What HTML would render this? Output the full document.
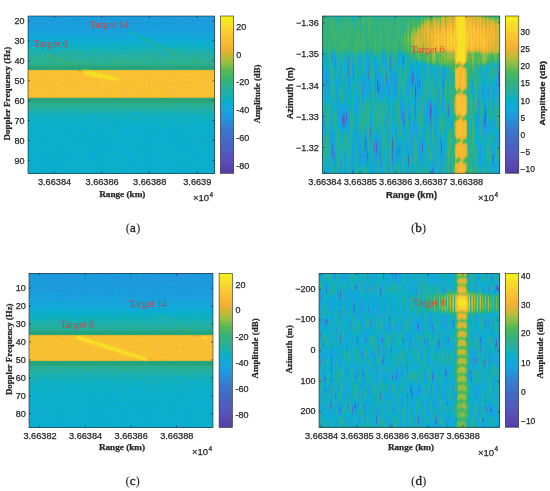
<!DOCTYPE html>
<html><head><meta charset="utf-8"><title>Figure</title>
<style>html,body{margin:0;padding:0;background:#fff;}body{width:550px;height:491px;overflow:hidden;position:relative;}svg{position:absolute;left:0;top:0;display:block;}</style>
</head><body>
<svg width="550" height="491" viewBox="0 0 550 491">
<defs><filter id="bl1" x="-50%" y="-50%" width="200%" height="200%" color-interpolation-filters="sRGB"><feGaussianBlur stdDeviation="0.80 0.80"/></filter>
<filter id="bl2" x="-50%" y="-50%" width="200%" height="200%" color-interpolation-filters="sRGB"><feGaussianBlur stdDeviation="1.50 1.50"/></filter>
<filter id="bl3" x="-50%" y="-50%" width="200%" height="200%" color-interpolation-filters="sRGB"><feGaussianBlur stdDeviation="3.00 3.00"/></filter>
<filter id="blv" x="-50%" y="-50%" width="200%" height="200%" color-interpolation-filters="sRGB"><feGaussianBlur stdDeviation="0.50 2.50"/></filter>
<filter id="bly" x="-50%" y="-50%" width="200%" height="200%" color-interpolation-filters="sRGB"><feGaussianBlur stdDeviation="0.01 0.90"/></filter>
<linearGradient id="ga" x1="0" y1="0" x2="0" y2="1"><stop offset="0.0000" stop-color="rgb(95,255,0)"/><stop offset="0.0572" stop-color="rgb(96,255,0)"/><stop offset="0.1081" stop-color="rgb(101,255,0)"/><stop offset="0.1526" stop-color="rgb(109,255,0)"/><stop offset="0.1907" stop-color="rgb(119,255,0)"/><stop offset="0.2289" stop-color="rgb(129,255,0)"/><stop offset="0.2670" stop-color="rgb(136,255,0)"/><stop offset="0.2988" stop-color="rgb(140,255,0)"/><stop offset="0.3242" stop-color="rgb(144,255,0)"/><stop offset="0.3408" stop-color="rgb(146,255,0)"/><stop offset="0.3446" stop-color="rgb(218,255,0)"/><stop offset="0.5175" stop-color="rgb(218,255,0)"/><stop offset="0.5213" stop-color="rgb(147,255,0)"/><stop offset="0.5467" stop-color="rgb(144,255,0)"/><stop offset="0.5722" stop-color="rgb(138,255,0)"/><stop offset="0.5976" stop-color="rgb(131,255,0)"/><stop offset="0.6230" stop-color="rgb(123,255,0)"/><stop offset="0.6612" stop-color="rgb(119,255,0)"/><stop offset="0.7247" stop-color="rgb(115,255,0)"/><stop offset="0.9981" stop-color="rgb(115,255,0)"/></linearGradient>
<filter id="fa" filterUnits="userSpaceOnUse" x="28.00" y="16.00" width="186.30" height="157.30" color-interpolation-filters="sRGB"><feTurbulence type="fractalNoise" baseFrequency="0.9 0.6" numOctaves="1" seed="3" result="n0"/><feColorMatrix in="n0" type="matrix" values="1 0 0 0 0 1 0 0 0 0 1 0 0 0 0 0 0 0 0 1" result="n1"/><feColorMatrix in="SourceGraphic" type="matrix" values="0 1 0 0 0 0 1 0 0 0 0 1 0 0 0 0 0 0 0 1" result="A"/><feColorMatrix in="SourceGraphic" type="matrix" values="1 0 0 0 0 1 0 0 0 0 1 0 0 0 0 0 0 0 0 1" result="V"/><feComposite in="A" in2="n1" operator="arithmetic" k1="0.1500" k2="0" k3="0" k4="0" result="P"/><feComposite in="P" in2="A" operator="arithmetic" k1="0" k2="1" k3="-0.0750" k4="0.5" result="Q"/><feComposite in="V" in2="Q" operator="arithmetic" k1="0" k2="1" k3="1" k4="-0.5" result="S"/><feComponentTransfer in="S"><feFuncR type="table" tableValues="0.3333 0.3373 0.3412 0.3451 0.3490 0.3490 0.3412 0.3294 0.3216 0.3098 0.2980 0.2902 0.2784 0.2667 0.2549 0.2431 0.2353 0.2235 0.2118 0.2000 0.1765 0.1529 0.1294 0.1137 0.1020 0.0941 0.0824 0.0588 0.0314 0.0392 0.0588 0.0824 0.1255 0.1451 0.1569 0.1765 0.1922 0.2118 0.2275 0.2667 0.3059 0.3412 0.4118 0.4902 0.5686 0.6431 0.7098 0.7725 0.8314 0.8902 0.9490 0.9647 0.9686 0.9725 0.9765 0.9804 0.9804 0.9765 0.9725 0.9686 0.9647 0.9608 0.9608 0.9608"/><feFuncG type="table" tableValues="0.2353 0.2510 0.2627 0.2784 0.2941 0.3059 0.3216 0.3373 0.3490 0.3647 0.3765 0.3882 0.4000 0.4118 0.4235 0.4392 0.4549 0.4706 0.4863 0.5059 0.5294 0.5569 0.5804 0.6039 0.6235 0.6392 0.6588 0.6706 0.6824 0.6863 0.6902 0.6902 0.6863 0.6863 0.6902 0.6941 0.6980 0.7020 0.7059 0.7137 0.7176 0.7255 0.7294 0.7373 0.7412 0.7412 0.7333 0.7255 0.7137 0.7020 0.6941 0.7059 0.7216 0.7412 0.7569 0.7765 0.7961 0.8196 0.8392 0.8627 0.8863 0.9098 0.9294 0.9412"/><feFuncB type="table" tableValues="0.6471 0.6627 0.6745 0.6902 0.7059 0.7176 0.7255 0.7373 0.7451 0.7529 0.7569 0.7647 0.7686 0.7725 0.7765 0.7843 0.7922 0.8000 0.8078 0.8157 0.8314 0.8471 0.8627 0.8706 0.8667 0.8667 0.8588 0.8392 0.8196 0.7882 0.7490 0.7098 0.6706 0.6314 0.5882 0.5490 0.5098 0.4706 0.4314 0.3961 0.3647 0.3294 0.3098 0.2902 0.2745 0.2549 0.2275 0.2118 0.2078 0.2039 0.1961 0.1961 0.1961 0.1961 0.1961 0.1961 0.1882 0.1765 0.1647 0.1490 0.1373 0.1255 0.1098 0.0980"/><feFuncA type="linear" slope="0" intercept="1"/></feComponentTransfer></filter>
<linearGradient id="ca" x1="0" y1="0" x2="0" y2="1"><stop offset="0.0000" stop-color="#f5f019"/><stop offset="0.0156" stop-color="#f5ed1c"/><stop offset="0.0312" stop-color="#f5e820"/><stop offset="0.0469" stop-color="#f6e223"/><stop offset="0.0625" stop-color="#f7dd26"/><stop offset="0.0781" stop-color="#f8d729"/><stop offset="0.0938" stop-color="#f9d12d"/><stop offset="0.1094" stop-color="#f9cc30"/><stop offset="0.1250" stop-color="#fac632"/><stop offset="0.1406" stop-color="#f9c232"/><stop offset="0.1562" stop-color="#f8bd32"/><stop offset="0.1719" stop-color="#f7b932"/><stop offset="0.1875" stop-color="#f6b432"/><stop offset="0.2031" stop-color="#f5b032"/><stop offset="0.2188" stop-color="#e6b333"/><stop offset="0.2344" stop-color="#d7b535"/><stop offset="0.2500" stop-color="#c8b836"/><stop offset="0.2656" stop-color="#b9bb39"/><stop offset="0.2812" stop-color="#a9bc3f"/><stop offset="0.2969" stop-color="#97be45"/><stop offset="0.3125" stop-color="#83bc49"/><stop offset="0.3281" stop-color="#70bb4d"/><stop offset="0.3438" stop-color="#5cb952"/><stop offset="0.3594" stop-color="#51b85a"/><stop offset="0.3750" stop-color="#48b662"/><stop offset="0.3906" stop-color="#3eb56b"/><stop offset="0.4062" stop-color="#37b374"/><stop offset="0.4219" stop-color="#33b27e"/><stop offset="0.4375" stop-color="#2fb187"/><stop offset="0.4531" stop-color="#2ab091"/><stop offset="0.4688" stop-color="#27b09b"/><stop offset="0.4844" stop-color="#24afa6"/><stop offset="0.5000" stop-color="#1bb0b0"/><stop offset="0.5156" stop-color="#12b0ba"/><stop offset="0.5312" stop-color="#0dafc3"/><stop offset="0.5469" stop-color="#07afcd"/><stop offset="0.5625" stop-color="#0bacd3"/><stop offset="0.5781" stop-color="#11a9d8"/><stop offset="0.5938" stop-color="#17a6dc"/><stop offset="0.6094" stop-color="#19a1dd"/><stop offset="0.6250" stop-color="#1b9ddd"/><stop offset="0.6406" stop-color="#1e98de"/><stop offset="0.6562" stop-color="#2392db"/><stop offset="0.6719" stop-color="#298cd7"/><stop offset="0.6875" stop-color="#2f85d3"/><stop offset="0.7031" stop-color="#357fd0"/><stop offset="0.7188" stop-color="#377bce"/><stop offset="0.7344" stop-color="#3a77cc"/><stop offset="0.7500" stop-color="#3c73ca"/><stop offset="0.7656" stop-color="#3f6fc7"/><stop offset="0.7812" stop-color="#426bc6"/><stop offset="0.7969" stop-color="#4568c5"/><stop offset="0.8125" stop-color="#4765c3"/><stop offset="0.8281" stop-color="#4a62c2"/><stop offset="0.8438" stop-color="#4d5fc1"/><stop offset="0.8594" stop-color="#505cc0"/><stop offset="0.8750" stop-color="#5259be"/><stop offset="0.8906" stop-color="#5555bb"/><stop offset="0.9062" stop-color="#5752b9"/><stop offset="0.9219" stop-color="#594eb7"/><stop offset="0.9375" stop-color="#594ab3"/><stop offset="0.9531" stop-color="#5847b0"/><stop offset="0.9688" stop-color="#5743ac"/><stop offset="0.9844" stop-color="#5640a9"/><stop offset="1.0000" stop-color="#553ca5"/></linearGradient>
<linearGradient id="gb" x1="0" y1="0" x2="0" y2="1"><stop offset="0.0000" stop-color="rgb(124,76,0)"/><stop offset="0.0095" stop-color="rgb(138,76,0)"/><stop offset="0.0254" stop-color="rgb(149,76,0)"/><stop offset="0.0509" stop-color="rgb(151,76,0)"/><stop offset="0.1972" stop-color="rgb(151,76,0)"/><stop offset="0.2195" stop-color="rgb(143,102,0)"/><stop offset="0.2385" stop-color="rgb(126,153,0)"/><stop offset="0.2576" stop-color="rgb(110,230,0)"/><stop offset="0.2926" stop-color="rgb(107,255,0)"/><stop offset="1.0000" stop-color="rgb(107,255,0)"/></linearGradient>
<filter id="fb" filterUnits="userSpaceOnUse" x="322.60" y="16.00" width="177.20" height="157.20" color-interpolation-filters="sRGB"><feTurbulence type="fractalNoise" baseFrequency="0.4 0.03" numOctaves="2" seed="7" result="n0"/><feColorMatrix in="n0" type="matrix" values="1 0 0 0 0 1 0 0 0 0 1 0 0 0 0 0 0 0 0 1" result="n1"/><feComponentTransfer in="n1" result="n2"><feFuncR type="table" tableValues="0.1943 0.1962 0.1981 0.2000 0.2019 0.2038 0.2057 0.2076 0.2095 0.2114 0.2133 0.2152 0.2302 0.2594 0.2887 0.3179 0.3472 0.3813 0.4154 0.4495 0.4591 0.4625 0.4659 0.4693 0.4727 0.4761 0.4795 0.4829 0.4864 0.4925 0.5096 0.5266 0.5437 0.5607 0.5732 0.5838 0.5945 0.6052 0.6158 0.6209 0.6221 0.6234 0.6247 0.6260 0.6273 0.6285 0.6298 0.6311 0.6324 0.6336 0.6349 0.6362 0.6375 0.6388 0.6400 0.6413 0.6426 0.6439 0.6452 0.6464 0.6477 0.6490 0.6503 0.6516 0.6528"/><feFuncG type="table" tableValues="0.1943 0.1962 0.1981 0.2000 0.2019 0.2038 0.2057 0.2076 0.2095 0.2114 0.2133 0.2152 0.2302 0.2594 0.2887 0.3179 0.3472 0.3813 0.4154 0.4495 0.4591 0.4625 0.4659 0.4693 0.4727 0.4761 0.4795 0.4829 0.4864 0.4925 0.5096 0.5266 0.5437 0.5607 0.5732 0.5838 0.5945 0.6052 0.6158 0.6209 0.6221 0.6234 0.6247 0.6260 0.6273 0.6285 0.6298 0.6311 0.6324 0.6336 0.6349 0.6362 0.6375 0.6388 0.6400 0.6413 0.6426 0.6439 0.6452 0.6464 0.6477 0.6490 0.6503 0.6516 0.6528"/><feFuncB type="table" tableValues="0.1943 0.1962 0.1981 0.2000 0.2019 0.2038 0.2057 0.2076 0.2095 0.2114 0.2133 0.2152 0.2302 0.2594 0.2887 0.3179 0.3472 0.3813 0.4154 0.4495 0.4591 0.4625 0.4659 0.4693 0.4727 0.4761 0.4795 0.4829 0.4864 0.4925 0.5096 0.5266 0.5437 0.5607 0.5732 0.5838 0.5945 0.6052 0.6158 0.6209 0.6221 0.6234 0.6247 0.6260 0.6273 0.6285 0.6298 0.6311 0.6324 0.6336 0.6349 0.6362 0.6375 0.6388 0.6400 0.6413 0.6426 0.6439 0.6452 0.6464 0.6477 0.6490 0.6503 0.6516 0.6528"/></feComponentTransfer><feGaussianBlur in="n2" stdDeviation="0.30" result="n3"/><feColorMatrix in="SourceGraphic" type="matrix" values="0 1 0 0 0 0 1 0 0 0 0 1 0 0 0 0 0 0 0 1" result="A"/><feColorMatrix in="SourceGraphic" type="matrix" values="1 0 0 0 0 1 0 0 0 0 1 0 0 0 0 0 0 0 0 1" result="V"/><feComposite in="A" in2="n3" operator="arithmetic" k1="1.0000" k2="0" k3="0" k4="0" result="P"/><feComposite in="P" in2="A" operator="arithmetic" k1="0" k2="1" k3="-0.5000" k4="0.5" result="Q"/><feComposite in="V" in2="Q" operator="arithmetic" k1="0" k2="1" k3="1" k4="-0.5" result="S"/><feComponentTransfer in="S"><feFuncR type="table" tableValues="0.3333 0.3373 0.3412 0.3451 0.3490 0.3490 0.3412 0.3294 0.3216 0.3098 0.2980 0.2902 0.2784 0.2667 0.2549 0.2431 0.2353 0.2235 0.2118 0.2000 0.1765 0.1529 0.1294 0.1137 0.1020 0.0941 0.0824 0.0588 0.0314 0.0392 0.0588 0.0824 0.1255 0.1451 0.1569 0.1765 0.1922 0.2118 0.2275 0.2667 0.3059 0.3412 0.4118 0.4902 0.5686 0.6431 0.7098 0.7725 0.8314 0.8902 0.9490 0.9647 0.9686 0.9725 0.9765 0.9804 0.9804 0.9765 0.9725 0.9686 0.9647 0.9608 0.9608 0.9608"/><feFuncG type="table" tableValues="0.2353 0.2510 0.2627 0.2784 0.2941 0.3059 0.3216 0.3373 0.3490 0.3647 0.3765 0.3882 0.4000 0.4118 0.4235 0.4392 0.4549 0.4706 0.4863 0.5059 0.5294 0.5569 0.5804 0.6039 0.6235 0.6392 0.6588 0.6706 0.6824 0.6863 0.6902 0.6902 0.6863 0.6863 0.6902 0.6941 0.6980 0.7020 0.7059 0.7137 0.7176 0.7255 0.7294 0.7373 0.7412 0.7412 0.7333 0.7255 0.7137 0.7020 0.6941 0.7059 0.7216 0.7412 0.7569 0.7765 0.7961 0.8196 0.8392 0.8627 0.8863 0.9098 0.9294 0.9412"/><feFuncB type="table" tableValues="0.6471 0.6627 0.6745 0.6902 0.7059 0.7176 0.7255 0.7373 0.7451 0.7529 0.7569 0.7647 0.7686 0.7725 0.7765 0.7843 0.7922 0.8000 0.8078 0.8157 0.8314 0.8471 0.8627 0.8706 0.8667 0.8667 0.8588 0.8392 0.8196 0.7882 0.7490 0.7098 0.6706 0.6314 0.5882 0.5490 0.5098 0.4706 0.4314 0.3961 0.3647 0.3294 0.3098 0.2902 0.2745 0.2549 0.2275 0.2118 0.2078 0.2039 0.1961 0.1961 0.1961 0.1961 0.1961 0.1961 0.1882 0.1765 0.1647 0.1490 0.1373 0.1255 0.1098 0.0980"/><feFuncA type="linear" slope="0" intercept="1"/></feComponentTransfer></filter>
<pattern id="stb" patternUnits="userSpaceOnUse" x="0" y="0" width="3.3" height="10"><rect x="0" y="0" width="1.5" height="10" fill="rgb(238,238,238)"/></pattern>
<linearGradient id="mbv" x1="0" y1="0" x2="0" y2="1"><stop offset="0" stop-color="#fff" stop-opacity="0"/><stop offset="0.1" stop-color="#fff" stop-opacity="1"/><stop offset="0.8" stop-color="#fff" stop-opacity="1"/><stop offset="1" stop-color="#fff" stop-opacity="0"/></linearGradient>
<mask id="mb1" maskUnits="userSpaceOnUse" x="322" y="16" width="178" height="42"><rect x="322" y="16" width="178" height="42" fill="url(#mbv)"/></mask>
<radialGradient id="glr" gradientUnits="userSpaceOnUse" cx="462" cy="39" r="64" gradientTransform="translate(462 39) scale(1 0.5) translate(-462 -39)"><stop offset="0" stop-color="rgb(235,76,0)" stop-opacity="1"/><stop offset="0.35" stop-color="rgb(218,76,0)" stop-opacity="1"/><stop offset="0.7" stop-color="rgb(202,76,0)" stop-opacity="0.85"/><stop offset="1" stop-color="rgb(168,76,0)" stop-opacity="0"/></radialGradient>
<linearGradient id="cb" x1="0" y1="0" x2="0" y2="1"><stop offset="0.0000" stop-color="#f5f019"/><stop offset="0.0156" stop-color="#f5ed1c"/><stop offset="0.0312" stop-color="#f5e820"/><stop offset="0.0469" stop-color="#f6e223"/><stop offset="0.0625" stop-color="#f7dd26"/><stop offset="0.0781" stop-color="#f8d729"/><stop offset="0.0938" stop-color="#f9d12d"/><stop offset="0.1094" stop-color="#f9cc30"/><stop offset="0.1250" stop-color="#fac632"/><stop offset="0.1406" stop-color="#f9c232"/><stop offset="0.1562" stop-color="#f8bd32"/><stop offset="0.1719" stop-color="#f7b932"/><stop offset="0.1875" stop-color="#f6b432"/><stop offset="0.2031" stop-color="#f5b032"/><stop offset="0.2188" stop-color="#e6b333"/><stop offset="0.2344" stop-color="#d7b535"/><stop offset="0.2500" stop-color="#c8b836"/><stop offset="0.2656" stop-color="#b9bb39"/><stop offset="0.2812" stop-color="#a9bc3f"/><stop offset="0.2969" stop-color="#97be45"/><stop offset="0.3125" stop-color="#83bc49"/><stop offset="0.3281" stop-color="#70bb4d"/><stop offset="0.3438" stop-color="#5cb952"/><stop offset="0.3594" stop-color="#51b85a"/><stop offset="0.3750" stop-color="#48b662"/><stop offset="0.3906" stop-color="#3eb56b"/><stop offset="0.4062" stop-color="#37b374"/><stop offset="0.4219" stop-color="#33b27e"/><stop offset="0.4375" stop-color="#2fb187"/><stop offset="0.4531" stop-color="#2ab091"/><stop offset="0.4688" stop-color="#27b09b"/><stop offset="0.4844" stop-color="#24afa6"/><stop offset="0.5000" stop-color="#1bb0b0"/><stop offset="0.5156" stop-color="#12b0ba"/><stop offset="0.5312" stop-color="#0dafc3"/><stop offset="0.5469" stop-color="#07afcd"/><stop offset="0.5625" stop-color="#0bacd3"/><stop offset="0.5781" stop-color="#11a9d8"/><stop offset="0.5938" stop-color="#17a6dc"/><stop offset="0.6094" stop-color="#19a1dd"/><stop offset="0.6250" stop-color="#1b9ddd"/><stop offset="0.6406" stop-color="#1e98de"/><stop offset="0.6562" stop-color="#2392db"/><stop offset="0.6719" stop-color="#298cd7"/><stop offset="0.6875" stop-color="#2f85d3"/><stop offset="0.7031" stop-color="#357fd0"/><stop offset="0.7188" stop-color="#377bce"/><stop offset="0.7344" stop-color="#3a77cc"/><stop offset="0.7500" stop-color="#3c73ca"/><stop offset="0.7656" stop-color="#3f6fc7"/><stop offset="0.7812" stop-color="#426bc6"/><stop offset="0.7969" stop-color="#4568c5"/><stop offset="0.8125" stop-color="#4765c3"/><stop offset="0.8281" stop-color="#4a62c2"/><stop offset="0.8438" stop-color="#4d5fc1"/><stop offset="0.8594" stop-color="#505cc0"/><stop offset="0.8750" stop-color="#5259be"/><stop offset="0.8906" stop-color="#5555bb"/><stop offset="0.9062" stop-color="#5752b9"/><stop offset="0.9219" stop-color="#594eb7"/><stop offset="0.9375" stop-color="#594ab3"/><stop offset="0.9531" stop-color="#5847b0"/><stop offset="0.9688" stop-color="#5743ac"/><stop offset="0.9844" stop-color="#5640a9"/><stop offset="1.0000" stop-color="#553ca5"/></linearGradient>
<linearGradient id="gc" x1="0" y1="0" x2="0" y2="1"><stop offset="0.0000" stop-color="rgb(93,255,0)"/><stop offset="0.1084" stop-color="rgb(95,255,0)"/><stop offset="0.1733" stop-color="rgb(100,255,0)"/><stop offset="0.2252" stop-color="rgb(108,255,0)"/><stop offset="0.2706" stop-color="rgb(118,255,0)"/><stop offset="0.3095" stop-color="rgb(126,255,0)"/><stop offset="0.3420" stop-color="rgb(133,255,0)"/><stop offset="0.3744" stop-color="rgb(139,255,0)"/><stop offset="0.3991" stop-color="rgb(145,255,0)"/><stop offset="0.4030" stop-color="rgb(217,255,0)"/><stop offset="0.5665" stop-color="rgb(217,255,0)"/><stop offset="0.5704" stop-color="rgb(146,255,0)"/><stop offset="0.6016" stop-color="rgb(141,255,0)"/><stop offset="0.6340" stop-color="rgb(134,255,0)"/><stop offset="0.6729" stop-color="rgb(125,255,0)"/><stop offset="0.7249" stop-color="rgb(119,255,0)"/><stop offset="0.8222" stop-color="rgb(115,255,0)"/><stop offset="0.9955" stop-color="rgb(114,255,0)"/></linearGradient>
<filter id="fc" filterUnits="userSpaceOnUse" x="29.00" y="273.30" width="184.00" height="154.10" color-interpolation-filters="sRGB"><feTurbulence type="fractalNoise" baseFrequency="0.9 0.6" numOctaves="1" seed="5" result="n0"/><feColorMatrix in="n0" type="matrix" values="1 0 0 0 0 1 0 0 0 0 1 0 0 0 0 0 0 0 0 1" result="n1"/><feColorMatrix in="SourceGraphic" type="matrix" values="0 1 0 0 0 0 1 0 0 0 0 1 0 0 0 0 0 0 0 1" result="A"/><feColorMatrix in="SourceGraphic" type="matrix" values="1 0 0 0 0 1 0 0 0 0 1 0 0 0 0 0 0 0 0 1" result="V"/><feComposite in="A" in2="n1" operator="arithmetic" k1="0.1500" k2="0" k3="0" k4="0" result="P"/><feComposite in="P" in2="A" operator="arithmetic" k1="0" k2="1" k3="-0.0750" k4="0.5" result="Q"/><feComposite in="V" in2="Q" operator="arithmetic" k1="0" k2="1" k3="1" k4="-0.5" result="S"/><feComponentTransfer in="S"><feFuncR type="table" tableValues="0.3333 0.3373 0.3412 0.3451 0.3490 0.3490 0.3412 0.3294 0.3216 0.3098 0.2980 0.2902 0.2784 0.2667 0.2549 0.2431 0.2353 0.2235 0.2118 0.2000 0.1765 0.1529 0.1294 0.1137 0.1020 0.0941 0.0824 0.0588 0.0314 0.0392 0.0588 0.0824 0.1255 0.1451 0.1569 0.1765 0.1922 0.2118 0.2275 0.2667 0.3059 0.3412 0.4118 0.4902 0.5686 0.6431 0.7098 0.7725 0.8314 0.8902 0.9490 0.9647 0.9686 0.9725 0.9765 0.9804 0.9804 0.9765 0.9725 0.9686 0.9647 0.9608 0.9608 0.9608"/><feFuncG type="table" tableValues="0.2353 0.2510 0.2627 0.2784 0.2941 0.3059 0.3216 0.3373 0.3490 0.3647 0.3765 0.3882 0.4000 0.4118 0.4235 0.4392 0.4549 0.4706 0.4863 0.5059 0.5294 0.5569 0.5804 0.6039 0.6235 0.6392 0.6588 0.6706 0.6824 0.6863 0.6902 0.6902 0.6863 0.6863 0.6902 0.6941 0.6980 0.7020 0.7059 0.7137 0.7176 0.7255 0.7294 0.7373 0.7412 0.7412 0.7333 0.7255 0.7137 0.7020 0.6941 0.7059 0.7216 0.7412 0.7569 0.7765 0.7961 0.8196 0.8392 0.8627 0.8863 0.9098 0.9294 0.9412"/><feFuncB type="table" tableValues="0.6471 0.6627 0.6745 0.6902 0.7059 0.7176 0.7255 0.7373 0.7451 0.7529 0.7569 0.7647 0.7686 0.7725 0.7765 0.7843 0.7922 0.8000 0.8078 0.8157 0.8314 0.8471 0.8627 0.8706 0.8667 0.8667 0.8588 0.8392 0.8196 0.7882 0.7490 0.7098 0.6706 0.6314 0.5882 0.5490 0.5098 0.4706 0.4314 0.3961 0.3647 0.3294 0.3098 0.2902 0.2745 0.2549 0.2275 0.2118 0.2078 0.2039 0.1961 0.1961 0.1961 0.1961 0.1961 0.1961 0.1882 0.1765 0.1647 0.1490 0.1373 0.1255 0.1098 0.0980"/><feFuncA type="linear" slope="0" intercept="1"/></feComponentTransfer></filter>
<linearGradient id="cc" x1="0" y1="0" x2="0" y2="1"><stop offset="0.0000" stop-color="#f5f019"/><stop offset="0.0156" stop-color="#f5ed1c"/><stop offset="0.0312" stop-color="#f5e820"/><stop offset="0.0469" stop-color="#f6e223"/><stop offset="0.0625" stop-color="#f7dd26"/><stop offset="0.0781" stop-color="#f8d729"/><stop offset="0.0938" stop-color="#f9d12d"/><stop offset="0.1094" stop-color="#f9cc30"/><stop offset="0.1250" stop-color="#fac632"/><stop offset="0.1406" stop-color="#f9c232"/><stop offset="0.1562" stop-color="#f8bd32"/><stop offset="0.1719" stop-color="#f7b932"/><stop offset="0.1875" stop-color="#f6b432"/><stop offset="0.2031" stop-color="#f5b032"/><stop offset="0.2188" stop-color="#e6b333"/><stop offset="0.2344" stop-color="#d7b535"/><stop offset="0.2500" stop-color="#c8b836"/><stop offset="0.2656" stop-color="#b9bb39"/><stop offset="0.2812" stop-color="#a9bc3f"/><stop offset="0.2969" stop-color="#97be45"/><stop offset="0.3125" stop-color="#83bc49"/><stop offset="0.3281" stop-color="#70bb4d"/><stop offset="0.3438" stop-color="#5cb952"/><stop offset="0.3594" stop-color="#51b85a"/><stop offset="0.3750" stop-color="#48b662"/><stop offset="0.3906" stop-color="#3eb56b"/><stop offset="0.4062" stop-color="#37b374"/><stop offset="0.4219" stop-color="#33b27e"/><stop offset="0.4375" stop-color="#2fb187"/><stop offset="0.4531" stop-color="#2ab091"/><stop offset="0.4688" stop-color="#27b09b"/><stop offset="0.4844" stop-color="#24afa6"/><stop offset="0.5000" stop-color="#1bb0b0"/><stop offset="0.5156" stop-color="#12b0ba"/><stop offset="0.5312" stop-color="#0dafc3"/><stop offset="0.5469" stop-color="#07afcd"/><stop offset="0.5625" stop-color="#0bacd3"/><stop offset="0.5781" stop-color="#11a9d8"/><stop offset="0.5938" stop-color="#17a6dc"/><stop offset="0.6094" stop-color="#19a1dd"/><stop offset="0.6250" stop-color="#1b9ddd"/><stop offset="0.6406" stop-color="#1e98de"/><stop offset="0.6562" stop-color="#2392db"/><stop offset="0.6719" stop-color="#298cd7"/><stop offset="0.6875" stop-color="#2f85d3"/><stop offset="0.7031" stop-color="#357fd0"/><stop offset="0.7188" stop-color="#377bce"/><stop offset="0.7344" stop-color="#3a77cc"/><stop offset="0.7500" stop-color="#3c73ca"/><stop offset="0.7656" stop-color="#3f6fc7"/><stop offset="0.7812" stop-color="#426bc6"/><stop offset="0.7969" stop-color="#4568c5"/><stop offset="0.8125" stop-color="#4765c3"/><stop offset="0.8281" stop-color="#4a62c2"/><stop offset="0.8438" stop-color="#4d5fc1"/><stop offset="0.8594" stop-color="#505cc0"/><stop offset="0.8750" stop-color="#5259be"/><stop offset="0.8906" stop-color="#5555bb"/><stop offset="0.9062" stop-color="#5752b9"/><stop offset="0.9219" stop-color="#594eb7"/><stop offset="0.9375" stop-color="#594ab3"/><stop offset="0.9531" stop-color="#5847b0"/><stop offset="0.9688" stop-color="#5743ac"/><stop offset="0.9844" stop-color="#5640a9"/><stop offset="1.0000" stop-color="#553ca5"/></linearGradient>
<linearGradient id="gd" x1="0" y1="0" x2="0" y2="1"><stop offset="0.0000" stop-color="rgb(108,255,0)"/><stop offset="0.9968" stop-color="rgb(108,255,0)"/></linearGradient>
<filter id="fd" filterUnits="userSpaceOnUse" x="319.00" y="273.30" width="180.60" height="153.90" color-interpolation-filters="sRGB"><feTurbulence type="fractalNoise" baseFrequency="0.45 0.06" numOctaves="2" seed="11" result="n0"/><feColorMatrix in="n0" type="matrix" values="1 0 0 0 0 1 0 0 0 0 1 0 0 0 0 0 0 0 0 1" result="n1"/><feComponentTransfer in="n1" result="n2"><feFuncR type="table" tableValues="0.2543 0.2559 0.2575 0.2592 0.2608 0.2625 0.2641 0.2657 0.2674 0.2690 0.2707 0.2723 0.2853 0.3106 0.3359 0.3613 0.3866 0.4132 0.4397 0.4663 0.4732 0.4752 0.4772 0.4791 0.4811 0.4831 0.4850 0.4870 0.4890 0.4931 0.5057 0.5184 0.5311 0.5437 0.5526 0.5600 0.5673 0.5747 0.5821 0.5857 0.5868 0.5879 0.5891 0.5902 0.5913 0.5924 0.5935 0.5946 0.5957 0.5968 0.5979 0.5990 0.6001 0.6012 0.6023 0.6035 0.6046 0.6057 0.6068 0.6079 0.6090 0.6101 0.6112 0.6123 0.6134"/><feFuncG type="table" tableValues="0.2543 0.2559 0.2575 0.2592 0.2608 0.2625 0.2641 0.2657 0.2674 0.2690 0.2707 0.2723 0.2853 0.3106 0.3359 0.3613 0.3866 0.4132 0.4397 0.4663 0.4732 0.4752 0.4772 0.4791 0.4811 0.4831 0.4850 0.4870 0.4890 0.4931 0.5057 0.5184 0.5311 0.5437 0.5526 0.5600 0.5673 0.5747 0.5821 0.5857 0.5868 0.5879 0.5891 0.5902 0.5913 0.5924 0.5935 0.5946 0.5957 0.5968 0.5979 0.5990 0.6001 0.6012 0.6023 0.6035 0.6046 0.6057 0.6068 0.6079 0.6090 0.6101 0.6112 0.6123 0.6134"/><feFuncB type="table" tableValues="0.2543 0.2559 0.2575 0.2592 0.2608 0.2625 0.2641 0.2657 0.2674 0.2690 0.2707 0.2723 0.2853 0.3106 0.3359 0.3613 0.3866 0.4132 0.4397 0.4663 0.4732 0.4752 0.4772 0.4791 0.4811 0.4831 0.4850 0.4870 0.4890 0.4931 0.5057 0.5184 0.5311 0.5437 0.5526 0.5600 0.5673 0.5747 0.5821 0.5857 0.5868 0.5879 0.5891 0.5902 0.5913 0.5924 0.5935 0.5946 0.5957 0.5968 0.5979 0.5990 0.6001 0.6012 0.6023 0.6035 0.6046 0.6057 0.6068 0.6079 0.6090 0.6101 0.6112 0.6123 0.6134"/></feComponentTransfer><feGaussianBlur in="n2" stdDeviation="0.30" result="n3"/><feColorMatrix in="SourceGraphic" type="matrix" values="0 1 0 0 0 0 1 0 0 0 0 1 0 0 0 0 0 0 0 1" result="A"/><feColorMatrix in="SourceGraphic" type="matrix" values="1 0 0 0 0 1 0 0 0 0 1 0 0 0 0 0 0 0 0 1" result="V"/><feComposite in="A" in2="n3" operator="arithmetic" k1="1.0000" k2="0" k3="0" k4="0" result="P"/><feComposite in="P" in2="A" operator="arithmetic" k1="0" k2="1" k3="-0.5000" k4="0.5" result="Q"/><feComposite in="V" in2="Q" operator="arithmetic" k1="0" k2="1" k3="1" k4="-0.5" result="S"/><feComponentTransfer in="S"><feFuncR type="table" tableValues="0.3333 0.3373 0.3412 0.3451 0.3490 0.3490 0.3412 0.3294 0.3216 0.3098 0.2980 0.2902 0.2784 0.2667 0.2549 0.2431 0.2353 0.2235 0.2118 0.2000 0.1765 0.1529 0.1294 0.1137 0.1020 0.0941 0.0824 0.0588 0.0314 0.0392 0.0588 0.0824 0.1255 0.1451 0.1569 0.1765 0.1922 0.2118 0.2275 0.2667 0.3059 0.3412 0.4118 0.4902 0.5686 0.6431 0.7098 0.7725 0.8314 0.8902 0.9490 0.9647 0.9686 0.9725 0.9765 0.9804 0.9804 0.9765 0.9725 0.9686 0.9647 0.9608 0.9608 0.9608"/><feFuncG type="table" tableValues="0.2353 0.2510 0.2627 0.2784 0.2941 0.3059 0.3216 0.3373 0.3490 0.3647 0.3765 0.3882 0.4000 0.4118 0.4235 0.4392 0.4549 0.4706 0.4863 0.5059 0.5294 0.5569 0.5804 0.6039 0.6235 0.6392 0.6588 0.6706 0.6824 0.6863 0.6902 0.6902 0.6863 0.6863 0.6902 0.6941 0.6980 0.7020 0.7059 0.7137 0.7176 0.7255 0.7294 0.7373 0.7412 0.7412 0.7333 0.7255 0.7137 0.7020 0.6941 0.7059 0.7216 0.7412 0.7569 0.7765 0.7961 0.8196 0.8392 0.8627 0.8863 0.9098 0.9294 0.9412"/><feFuncB type="table" tableValues="0.6471 0.6627 0.6745 0.6902 0.7059 0.7176 0.7255 0.7373 0.7451 0.7529 0.7569 0.7647 0.7686 0.7725 0.7765 0.7843 0.7922 0.8000 0.8078 0.8157 0.8314 0.8471 0.8627 0.8706 0.8667 0.8667 0.8588 0.8392 0.8196 0.7882 0.7490 0.7098 0.6706 0.6314 0.5882 0.5490 0.5098 0.4706 0.4314 0.3961 0.3647 0.3294 0.3098 0.2902 0.2745 0.2549 0.2275 0.2118 0.2078 0.2039 0.1961 0.1961 0.1961 0.1961 0.1961 0.1961 0.1882 0.1765 0.1647 0.1490 0.1373 0.1255 0.1098 0.0980"/><feFuncA type="linear" slope="0" intercept="1"/></feComponentTransfer></filter>
<linearGradient id="gdh" gradientUnits="userSpaceOnUse" x1="319" y1="0" x2="499.3" y2="0"><stop offset="0.0000" stop-color="rgb(108,64,0)" stop-opacity="0.00"/><stop offset="0.2274" stop-color="rgb(115,64,0)" stop-opacity="0.50"/><stop offset="0.3938" stop-color="rgb(125,64,0)" stop-opacity="0.90"/><stop offset="0.5047" stop-color="rgb(137,64,0)" stop-opacity="1.00"/><stop offset="0.5879" stop-color="rgb(149,64,0)" stop-opacity="1.00"/><stop offset="0.6711" stop-color="rgb(168,64,0)" stop-opacity="1.00"/><stop offset="0.7266" stop-color="rgb(185,64,0)" stop-opacity="1.00"/><stop offset="0.7876" stop-color="rgb(200,64,0)" stop-opacity="1.00"/><stop offset="0.8486" stop-color="rgb(188,64,0)" stop-opacity="1.00"/><stop offset="0.9207" stop-color="rgb(175,64,0)" stop-opacity="1.00"/><stop offset="1.0000" stop-color="rgb(166,64,0)" stop-opacity="1.00"/></linearGradient>
<linearGradient id="gdv" x1="0" y1="0" x2="0" y2="1"><stop offset="0" stop-color="#fff" stop-opacity="0"/><stop offset="0.2" stop-color="#fff" stop-opacity="1"/><stop offset="0.8" stop-color="#fff" stop-opacity="1"/><stop offset="1" stop-color="#fff" stop-opacity="0"/></linearGradient>
<mask id="md1" maskUnits="userSpaceOnUse" x="319" y="292" width="181" height="22"><rect x="319" y="292" width="181" height="22" fill="url(#gdv)"/></mask>
<radialGradient id="gdr" gradientUnits="userSpaceOnUse" cx="462" cy="303" r="38" gradientTransform="translate(462 303) scale(1 0.36) translate(-462 -303)"><stop offset="0" stop-color="rgb(219,51,0)" stop-opacity="1"/><stop offset="0.6" stop-color="rgb(200,51,0)" stop-opacity="0.7"/><stop offset="1" stop-color="rgb(173,51,0)" stop-opacity="0"/></radialGradient>
<pattern id="std" patternUnits="userSpaceOnUse" x="0.3" y="0" width="2.7" height="10"><rect x="0" y="0" width="1.25" height="10" fill="rgb(170,170,170)"/></pattern>
<linearGradient id="gdm" gradientUnits="userSpaceOnUse" x1="319" y1="0" x2="499.3" y2="0"><stop offset="0" stop-color="#fff" stop-opacity="0.25"/><stop offset="0.5" stop-color="#fff" stop-opacity="0.7"/><stop offset="0.7" stop-color="#fff" stop-opacity="1"/></linearGradient>
<mask id="md2" maskUnits="userSpaceOnUse" x="319" y="289" width="181" height="28"><rect x="319" y="289" width="181" height="28" fill="url(#gdm)"/></mask>
<linearGradient id="gcol" gradientUnits="userSpaceOnUse" x1="0" y1="270" x2="0" y2="430"><stop offset="0.0000" stop-color="rgb(190,38,0)"/><stop offset="0.0375" stop-color="rgb(195,38,0)"/><stop offset="0.1125" stop-color="rgb(202,38,0)"/><stop offset="0.1500" stop-color="rgb(221,38,0)"/><stop offset="0.2062" stop-color="rgb(248,38,0)"/><stop offset="0.2625" stop-color="rgb(221,38,0)"/><stop offset="0.3000" stop-color="rgb(202,38,0)"/><stop offset="0.3750" stop-color="rgb(195,38,0)"/><stop offset="0.6875" stop-color="rgb(183,38,0)"/><stop offset="1.0000" stop-color="rgb(168,38,0)"/></linearGradient>
<linearGradient id="cd" x1="0" y1="0" x2="0" y2="1"><stop offset="0.0000" stop-color="#f5f019"/><stop offset="0.0156" stop-color="#f5ed1c"/><stop offset="0.0312" stop-color="#f5e820"/><stop offset="0.0469" stop-color="#f6e223"/><stop offset="0.0625" stop-color="#f7dd26"/><stop offset="0.0781" stop-color="#f8d729"/><stop offset="0.0938" stop-color="#f9d12d"/><stop offset="0.1094" stop-color="#f9cc30"/><stop offset="0.1250" stop-color="#fac632"/><stop offset="0.1406" stop-color="#f9c232"/><stop offset="0.1562" stop-color="#f8bd32"/><stop offset="0.1719" stop-color="#f7b932"/><stop offset="0.1875" stop-color="#f6b432"/><stop offset="0.2031" stop-color="#f5b032"/><stop offset="0.2188" stop-color="#e6b333"/><stop offset="0.2344" stop-color="#d7b535"/><stop offset="0.2500" stop-color="#c8b836"/><stop offset="0.2656" stop-color="#b9bb39"/><stop offset="0.2812" stop-color="#a9bc3f"/><stop offset="0.2969" stop-color="#97be45"/><stop offset="0.3125" stop-color="#83bc49"/><stop offset="0.3281" stop-color="#70bb4d"/><stop offset="0.3438" stop-color="#5cb952"/><stop offset="0.3594" stop-color="#51b85a"/><stop offset="0.3750" stop-color="#48b662"/><stop offset="0.3906" stop-color="#3eb56b"/><stop offset="0.4062" stop-color="#37b374"/><stop offset="0.4219" stop-color="#33b27e"/><stop offset="0.4375" stop-color="#2fb187"/><stop offset="0.4531" stop-color="#2ab091"/><stop offset="0.4688" stop-color="#27b09b"/><stop offset="0.4844" stop-color="#24afa6"/><stop offset="0.5000" stop-color="#1bb0b0"/><stop offset="0.5156" stop-color="#12b0ba"/><stop offset="0.5312" stop-color="#0dafc3"/><stop offset="0.5469" stop-color="#07afcd"/><stop offset="0.5625" stop-color="#0bacd3"/><stop offset="0.5781" stop-color="#11a9d8"/><stop offset="0.5938" stop-color="#17a6dc"/><stop offset="0.6094" stop-color="#19a1dd"/><stop offset="0.6250" stop-color="#1b9ddd"/><stop offset="0.6406" stop-color="#1e98de"/><stop offset="0.6562" stop-color="#2392db"/><stop offset="0.6719" stop-color="#298cd7"/><stop offset="0.6875" stop-color="#2f85d3"/><stop offset="0.7031" stop-color="#357fd0"/><stop offset="0.7188" stop-color="#377bce"/><stop offset="0.7344" stop-color="#3a77cc"/><stop offset="0.7500" stop-color="#3c73ca"/><stop offset="0.7656" stop-color="#3f6fc7"/><stop offset="0.7812" stop-color="#426bc6"/><stop offset="0.7969" stop-color="#4568c5"/><stop offset="0.8125" stop-color="#4765c3"/><stop offset="0.8281" stop-color="#4a62c2"/><stop offset="0.8438" stop-color="#4d5fc1"/><stop offset="0.8594" stop-color="#505cc0"/><stop offset="0.8750" stop-color="#5259be"/><stop offset="0.8906" stop-color="#5555bb"/><stop offset="0.9062" stop-color="#5752b9"/><stop offset="0.9219" stop-color="#594eb7"/><stop offset="0.9375" stop-color="#594ab3"/><stop offset="0.9531" stop-color="#5847b0"/><stop offset="0.9688" stop-color="#5743ac"/><stop offset="0.9844" stop-color="#5640a9"/><stop offset="1.0000" stop-color="#553ca5"/></linearGradient></defs>
<g filter="url(#fa)">
<rect x="28.00" y="16.00" width="186.30" height="157.30" fill="url(#ga)"/>
<path d="M46.5 54.8 L82 69.6" stroke="rgb(131,255,0)" stroke-width="3.2" fill="none" filter="url(#bl1)"/>
<path d="M46.5 54.8 L82 69.6" stroke="rgb(170,255,0)" stroke-width="1.6" fill="none" filter="url(#bl1)"/>
<path d="M82 69.8 L96 72.8 L108 76.2 L122.5 81 L108 79.4 L96 77.6 L83 74.5 Z" fill="rgb(236,255,0)" filter="url(#bl1)"/>
<path d="M86 71.5 L118 79.5" stroke="rgb(247,255,0)" stroke-width="2" fill="none" filter="url(#bl1)"/>
<path d="M129 32 L181 56.5" stroke="rgb(145,255,0)" stroke-width="1.7" fill="none" filter="url(#bl1)"/>
</g>
<g filter="url(#bly)" opacity="0.3"><rect x="28.3" y="65.5" width="185.8" height="4" fill="#0c7f60"/><rect x="28.3" y="98" width="185.8" height="4.5" fill="#0c7f60"/></g>
<text x="33.80" y="47.40" font-size="10.40" text-anchor="start" font-family="'Liberation Serif', 'Times New Roman', serif" font-weight="normal" fill="#c4474d">Target 6</text>
<text x="89.60" y="27.80" font-size="10.30" text-anchor="start" font-family="'Liberation Serif', 'Times New Roman', serif" font-weight="normal" fill="#c4474d">Target 14</text>
<path d="M54.20 173.30v-2.00M54.20 16.00v2.00M101.80 173.30v-2.00M101.80 16.00v2.00M149.40 173.30v-2.00M149.40 16.00v2.00M197.00 173.30v-2.00M197.00 16.00v2.00M28.00 21.00h2.00M214.30 21.00h-2.00M28.00 40.91h2.00M214.30 40.91h-2.00M28.00 60.82h2.00M214.30 60.82h-2.00M28.00 80.73h2.00M214.30 80.73h-2.00M28.00 100.64h2.00M214.30 100.64h-2.00M28.00 120.55h2.00M214.30 120.55h-2.00M28.00 140.46h2.00M214.30 140.46h-2.00M28.00 160.37h2.00M214.30 160.37h-2.00" stroke="#262626" stroke-width="0.6" fill="none"/>
<rect x="28.00" y="16.00" width="186.30" height="157.30" fill="none" stroke="#262626" stroke-width="0.6"/>
<text x="24.50" y="24.20" font-size="9.00" text-anchor="end" font-family="'Liberation Sans', Arial, Helvetica, sans-serif" font-weight="normal" fill="#262626" stroke="#262626" stroke-width="0.25">20</text>
<text x="24.50" y="44.11" font-size="9.00" text-anchor="end" font-family="'Liberation Sans', Arial, Helvetica, sans-serif" font-weight="normal" fill="#262626" stroke="#262626" stroke-width="0.25">30</text>
<text x="24.50" y="64.02" font-size="9.00" text-anchor="end" font-family="'Liberation Sans', Arial, Helvetica, sans-serif" font-weight="normal" fill="#262626" stroke="#262626" stroke-width="0.25">40</text>
<text x="24.50" y="83.93" font-size="9.00" text-anchor="end" font-family="'Liberation Sans', Arial, Helvetica, sans-serif" font-weight="normal" fill="#262626" stroke="#262626" stroke-width="0.25">50</text>
<text x="24.50" y="103.84" font-size="9.00" text-anchor="end" font-family="'Liberation Sans', Arial, Helvetica, sans-serif" font-weight="normal" fill="#262626" stroke="#262626" stroke-width="0.25">60</text>
<text x="24.50" y="123.75" font-size="9.00" text-anchor="end" font-family="'Liberation Sans', Arial, Helvetica, sans-serif" font-weight="normal" fill="#262626" stroke="#262626" stroke-width="0.25">70</text>
<text x="24.50" y="143.66" font-size="9.00" text-anchor="end" font-family="'Liberation Sans', Arial, Helvetica, sans-serif" font-weight="normal" fill="#262626" stroke="#262626" stroke-width="0.25">80</text>
<text x="24.50" y="163.57" font-size="9.00" text-anchor="end" font-family="'Liberation Sans', Arial, Helvetica, sans-serif" font-weight="normal" fill="#262626" stroke="#262626" stroke-width="0.25">90</text>
<text x="54.50" y="185.30" font-size="9.20" text-anchor="middle" font-family="'Liberation Sans', Arial, Helvetica, sans-serif" font-weight="normal" fill="#262626" stroke="#262626" stroke-width="0.25">3.66384</text>
<text x="102.10" y="185.30" font-size="9.20" text-anchor="middle" font-family="'Liberation Sans', Arial, Helvetica, sans-serif" font-weight="normal" fill="#262626" stroke="#262626" stroke-width="0.25">3.66386</text>
<text x="149.70" y="185.30" font-size="9.20" text-anchor="middle" font-family="'Liberation Sans', Arial, Helvetica, sans-serif" font-weight="normal" fill="#262626" stroke="#262626" stroke-width="0.25">3.66388</text>
<text x="197.30" y="185.30" font-size="9.20" text-anchor="middle" font-family="'Liberation Sans', Arial, Helvetica, sans-serif" font-weight="normal" fill="#262626" stroke="#262626" stroke-width="0.25">3.6639</text>
<text x="122.30" y="196.90" font-size="9.20" text-anchor="middle" font-family="'Liberation Serif', 'Times New Roman', serif" font-weight="bold" fill="#262626" stroke="#262626" stroke-width="0.25">Range (km)</text>
<text x="10.40" y="93.70" font-size="9.00" text-anchor="middle" font-family="'Liberation Serif', 'Times New Roman', serif" font-weight="bold" fill="#262626" stroke="#262626" stroke-width="0.25" transform="rotate(-90 10.40 93.70)">Doppler Frequency (Hz)</text>
<text x="193.00" y="201.00" font-size="9.50" text-anchor="start" font-family="'Liberation Sans', Arial, Helvetica, sans-serif" font-weight="normal" fill="#262626" stroke="#262626" stroke-width="0.25">×10</text>
<text x="209.50" y="196.50" font-size="6.50" text-anchor="start" font-family="'Liberation Sans', Arial, Helvetica, sans-serif" font-weight="normal" fill="#262626" stroke="#262626" stroke-width="0.25">4</text>
<rect x="220.40" y="16.00" width="13.30" height="157.30" fill="url(#ca)" stroke="#262626" stroke-width="0.6"/>
<text x="236.30" y="29.70" font-size="9.00" text-anchor="start" font-family="'Liberation Sans', Arial, Helvetica, sans-serif" font-weight="normal" fill="#262626" stroke="#262626" stroke-width="0.25">20</text>
<text x="236.30" y="57.50" font-size="9.00" text-anchor="start" font-family="'Liberation Sans', Arial, Helvetica, sans-serif" font-weight="normal" fill="#262626" stroke="#262626" stroke-width="0.25">0</text>
<text x="236.30" y="85.40" font-size="9.00" text-anchor="start" font-family="'Liberation Sans', Arial, Helvetica, sans-serif" font-weight="normal" fill="#262626" stroke="#262626" stroke-width="0.25">-20</text>
<text x="236.30" y="113.30" font-size="9.00" text-anchor="start" font-family="'Liberation Sans', Arial, Helvetica, sans-serif" font-weight="normal" fill="#262626" stroke="#262626" stroke-width="0.25">-40</text>
<text x="236.30" y="141.20" font-size="9.00" text-anchor="start" font-family="'Liberation Sans', Arial, Helvetica, sans-serif" font-weight="normal" fill="#262626" stroke="#262626" stroke-width="0.25">-60</text>
<text x="236.30" y="169.20" font-size="9.00" text-anchor="start" font-family="'Liberation Sans', Arial, Helvetica, sans-serif" font-weight="normal" fill="#262626" stroke="#262626" stroke-width="0.25">-80</text>
<text x="259.80" y="93.90" font-size="8.80" text-anchor="middle" font-family="'Liberation Serif', 'Times New Roman', serif" font-weight="bold" fill="#262626" stroke="#262626" stroke-width="0.25" transform="rotate(-90 259.80 93.90)">Amplitude (dB)</text>
<text x="133.00" y="232.40" font-size="13.10" text-anchor="middle" font-family="'Liberation Serif', 'Times New Roman', serif" font-weight="normal" fill="#262626">(<tspan stroke="#262626" stroke-width="0.35">a</tspan>)</text>
<g filter="url(#fb)">
<rect x="322.60" y="16.00" width="177.20" height="157.20" fill="url(#gb)"/>
<rect x="395" y="14" width="106" height="56" fill="url(#glr)"/>
<ellipse cx="458" cy="58" rx="42" ry="7" fill="rgb(163,102,0)" opacity="0.85" filter="url(#bl2)"/>
<rect x="322.5" y="16" width="177" height="42" fill="url(#stb)" mask="url(#mb1)" style="mix-blend-mode:multiply"/>
<rect x="446" y="60" width="30" height="115" fill="rgb(146,178,0)" opacity="0.6" filter="url(#bl2)"/>
<rect x="455.8" y="12" width="10.2" height="165" fill="rgb(190,76,0)" filter="url(#bl1)"/>
<rect x="455.2" y="67.0" width="11.3" height="24.0" rx="4" fill="rgb(215,51,0)" filter="url(#bl1)"/>
<rect x="455.2" y="94.0" width="11.3" height="22.0" rx="4" fill="rgb(215,51,0)" filter="url(#bl1)"/>
<rect x="455.2" y="119.5" width="11.3" height="20.0" rx="4" fill="rgb(213,51,0)" filter="url(#bl1)"/>
<rect x="455.2" y="142.0" width="11.3" height="17.0" rx="4" fill="rgb(210,51,0)" filter="url(#bl1)"/>
<rect x="455.2" y="161.0" width="11.3" height="14.0" rx="4" fill="rgb(207,51,0)" filter="url(#bl1)"/>
<rect x="455.6" y="12" width="10.5" height="52" fill="rgb(241,38,0)" filter="url(#bl1)"/>
<path d="M457 67.0 l2.6 -4.2 M463.5 67.5 l2.4 -4 M457 93.0 l2.6 -4.2 M463.5 93.5 l2.4 -4 M457 119.5 l2.6 -4.2 M463.5 120.0 l2.4 -4 M457 143.0 l2.6 -4.2 M463.5 143.5 l2.4 -4 M457 162.5 l2.6 -4.2 M463.5 163.0 l2.4 -4" stroke="rgb(135,51,0)" stroke-width="1.8" stroke-linecap="round" fill="none" filter="url(#bl1)"/>
</g>
<text x="411.20" y="52.70" font-size="10.30" text-anchor="start" font-family="'Liberation Serif', 'Times New Roman', serif" font-weight="normal" fill="#d4493f">Target 6</text>
<path d="M324.60 173.20v-2.00M324.60 16.00v2.00M360.00 173.20v-2.00M360.00 16.00v2.00M395.40 173.20v-2.00M395.40 16.00v2.00M430.80 173.20v-2.00M430.80 16.00v2.00M466.20 173.20v-2.00M466.20 16.00v2.00M322.60 22.90h2.00M499.80 22.90h-2.00M322.60 54.10h2.00M499.80 54.10h-2.00M322.60 85.30h2.00M499.80 85.30h-2.00M322.60 116.50h2.00M499.80 116.50h-2.00M322.60 147.70h2.00M499.80 147.70h-2.00" stroke="#262626" stroke-width="0.6" fill="none"/>
<rect x="322.60" y="16.00" width="177.20" height="157.20" fill="none" stroke="#262626" stroke-width="0.6"/>
<text x="318.80" y="26.10" font-size="9.00" text-anchor="end" font-family="'Liberation Sans', Arial, Helvetica, sans-serif" font-weight="normal" fill="#262626" stroke="#262626" stroke-width="0.25">−1.36</text>
<text x="318.80" y="57.30" font-size="9.00" text-anchor="end" font-family="'Liberation Sans', Arial, Helvetica, sans-serif" font-weight="normal" fill="#262626" stroke="#262626" stroke-width="0.25">−1.35</text>
<text x="318.80" y="88.50" font-size="9.00" text-anchor="end" font-family="'Liberation Sans', Arial, Helvetica, sans-serif" font-weight="normal" fill="#262626" stroke="#262626" stroke-width="0.25">−1.34</text>
<text x="318.80" y="119.70" font-size="9.00" text-anchor="end" font-family="'Liberation Sans', Arial, Helvetica, sans-serif" font-weight="normal" fill="#262626" stroke="#262626" stroke-width="0.25">−1.33</text>
<text x="318.80" y="150.90" font-size="9.00" text-anchor="end" font-family="'Liberation Sans', Arial, Helvetica, sans-serif" font-weight="normal" fill="#262626" stroke="#262626" stroke-width="0.25">−1.32</text>
<text x="324.90" y="184.60" font-size="9.20" text-anchor="middle" font-family="'Liberation Sans', Arial, Helvetica, sans-serif" font-weight="normal" fill="#262626" stroke="#262626" stroke-width="0.25">3.66384</text>
<text x="360.30" y="184.60" font-size="9.20" text-anchor="middle" font-family="'Liberation Sans', Arial, Helvetica, sans-serif" font-weight="normal" fill="#262626" stroke="#262626" stroke-width="0.25">3.66385</text>
<text x="395.70" y="184.60" font-size="9.20" text-anchor="middle" font-family="'Liberation Sans', Arial, Helvetica, sans-serif" font-weight="normal" fill="#262626" stroke="#262626" stroke-width="0.25">3.66386</text>
<text x="431.10" y="184.60" font-size="9.20" text-anchor="middle" font-family="'Liberation Sans', Arial, Helvetica, sans-serif" font-weight="normal" fill="#262626" stroke="#262626" stroke-width="0.25">3.66387</text>
<text x="466.50" y="184.60" font-size="9.20" text-anchor="middle" font-family="'Liberation Sans', Arial, Helvetica, sans-serif" font-weight="normal" fill="#262626" stroke="#262626" stroke-width="0.25">3.66388</text>
<text x="411.50" y="198.00" font-size="9.40" text-anchor="middle" font-family="'Liberation Sans', Arial, Helvetica, sans-serif" font-weight="bold" fill="#262626" stroke="#262626" stroke-width="0.25">Range (km)</text>
<text x="293.50" y="93.20" font-size="9.00" text-anchor="middle" font-family="'Liberation Sans', Arial, Helvetica, sans-serif" font-weight="bold" fill="#262626" stroke="#262626" stroke-width="0.25" transform="rotate(-90 293.50 93.20)">Azimuth (m)</text>
<text x="478.00" y="201.00" font-size="9.50" text-anchor="start" font-family="'Liberation Sans', Arial, Helvetica, sans-serif" font-weight="normal" fill="#262626" stroke="#262626" stroke-width="0.25">×10</text>
<text x="494.50" y="196.50" font-size="6.50" text-anchor="start" font-family="'Liberation Sans', Arial, Helvetica, sans-serif" font-weight="normal" fill="#262626" stroke="#262626" stroke-width="0.25">4</text>
<rect x="505.30" y="16.00" width="13.50" height="157.20" fill="url(#cb)" stroke="#262626" stroke-width="0.6"/>
<text x="520.60" y="34.90" font-size="8.40" text-anchor="start" font-family="'Liberation Sans', Arial, Helvetica, sans-serif" font-weight="normal" fill="#262626" stroke="#262626" stroke-width="0.25">30</text>
<text x="520.60" y="52.05" font-size="8.40" text-anchor="start" font-family="'Liberation Sans', Arial, Helvetica, sans-serif" font-weight="normal" fill="#262626" stroke="#262626" stroke-width="0.25">25</text>
<text x="520.60" y="69.20" font-size="8.40" text-anchor="start" font-family="'Liberation Sans', Arial, Helvetica, sans-serif" font-weight="normal" fill="#262626" stroke="#262626" stroke-width="0.25">20</text>
<text x="520.60" y="86.35" font-size="8.40" text-anchor="start" font-family="'Liberation Sans', Arial, Helvetica, sans-serif" font-weight="normal" fill="#262626" stroke="#262626" stroke-width="0.25">15</text>
<text x="520.60" y="103.50" font-size="8.40" text-anchor="start" font-family="'Liberation Sans', Arial, Helvetica, sans-serif" font-weight="normal" fill="#262626" stroke="#262626" stroke-width="0.25">10</text>
<text x="520.60" y="120.65" font-size="8.40" text-anchor="start" font-family="'Liberation Sans', Arial, Helvetica, sans-serif" font-weight="normal" fill="#262626" stroke="#262626" stroke-width="0.25">5</text>
<text x="520.60" y="137.80" font-size="8.40" text-anchor="start" font-family="'Liberation Sans', Arial, Helvetica, sans-serif" font-weight="normal" fill="#262626" stroke="#262626" stroke-width="0.25">0</text>
<text x="520.60" y="154.95" font-size="8.40" text-anchor="start" font-family="'Liberation Sans', Arial, Helvetica, sans-serif" font-weight="normal" fill="#262626" stroke="#262626" stroke-width="0.25">−5</text>
<text x="520.60" y="172.10" font-size="8.40" text-anchor="start" font-family="'Liberation Sans', Arial, Helvetica, sans-serif" font-weight="normal" fill="#262626" stroke="#262626" stroke-width="0.25">−10</text>
<text x="0" y="0" font-size="9.00" text-anchor="middle" font-family="'Liberation Sans', Arial, Helvetica, sans-serif" font-weight="bold" fill="#262626" stroke="#262626" stroke-width="0.45" transform="translate(545.00 93.30) scale(0.720 1) rotate(-90)">Amplitude (dB)</text>
<text x="418.60" y="232.00" font-size="13.10" text-anchor="middle" font-family="'Liberation Serif', 'Times New Roman', serif" font-weight="normal" fill="#262626">(<tspan stroke="#262626" stroke-width="0.35">b</tspan>)</text>
<g filter="url(#fc)">
<rect x="29.00" y="273.30" width="184.00" height="154.10" fill="url(#gc)"/>
<path d="M77.3 337.3 L146.4 359.6" stroke="rgb(250,255,0)" stroke-width="3" fill="none" filter="url(#bl1)"/>
<path d="M157 314.5 L199.6 335" stroke="rgb(139,255,0)" stroke-width="1.5" fill="none" filter="url(#bl1)"/>
<path d="M184 329.5 L196 334.5" stroke="rgb(161,255,0)" stroke-width="1.8" fill="none" filter="url(#bl1)"/>
<ellipse cx="204.4" cy="337.6" rx="2.6" ry="1.8" fill="rgb(241,255,0)" filter="url(#bl1)"/>
</g>
<g filter="url(#bly)" opacity="0.3"><rect x="29.3" y="330.8" width="183.5" height="4" fill="#0c7f60"/><rect x="29.3" y="361.2" width="183.5" height="4.5" fill="#0c7f60"/></g>
<text x="60.30" y="327.70" font-size="10.30" text-anchor="start" font-family="'Liberation Serif', 'Times New Roman', serif" font-weight="normal" fill="#c4474d">Target 6</text>
<text x="128.40" y="306.60" font-size="10.30" text-anchor="start" font-family="'Liberation Serif', 'Times New Roman', serif" font-weight="normal" fill="#c4474d">Target 14</text>
<path d="M39.70 427.40v-2.00M39.70 273.30v2.00M85.30 427.40v-2.00M85.30 273.30v2.00M130.90 427.40v-2.00M130.90 273.30v2.00M176.50 427.40v-2.00M176.50 273.30v2.00M29.00 288.10h2.00M213.00 288.10h-2.00M29.00 306.07h2.00M213.00 306.07h-2.00M29.00 324.04h2.00M213.00 324.04h-2.00M29.00 342.01h2.00M213.00 342.01h-2.00M29.00 359.98h2.00M213.00 359.98h-2.00M29.00 377.95h2.00M213.00 377.95h-2.00M29.00 395.92h2.00M213.00 395.92h-2.00M29.00 413.89h2.00M213.00 413.89h-2.00" stroke="#262626" stroke-width="0.6" fill="none"/>
<rect x="29.00" y="273.30" width="184.00" height="154.10" fill="none" stroke="#262626" stroke-width="0.6"/>
<text x="25.80" y="291.30" font-size="9.00" text-anchor="end" font-family="'Liberation Sans', Arial, Helvetica, sans-serif" font-weight="normal" fill="#262626" stroke="#262626" stroke-width="0.25">10</text>
<text x="25.80" y="309.27" font-size="9.00" text-anchor="end" font-family="'Liberation Sans', Arial, Helvetica, sans-serif" font-weight="normal" fill="#262626" stroke="#262626" stroke-width="0.25">20</text>
<text x="25.80" y="327.24" font-size="9.00" text-anchor="end" font-family="'Liberation Sans', Arial, Helvetica, sans-serif" font-weight="normal" fill="#262626" stroke="#262626" stroke-width="0.25">30</text>
<text x="25.80" y="345.21" font-size="9.00" text-anchor="end" font-family="'Liberation Sans', Arial, Helvetica, sans-serif" font-weight="normal" fill="#262626" stroke="#262626" stroke-width="0.25">40</text>
<text x="25.80" y="363.18" font-size="9.00" text-anchor="end" font-family="'Liberation Sans', Arial, Helvetica, sans-serif" font-weight="normal" fill="#262626" stroke="#262626" stroke-width="0.25">50</text>
<text x="25.80" y="381.15" font-size="9.00" text-anchor="end" font-family="'Liberation Sans', Arial, Helvetica, sans-serif" font-weight="normal" fill="#262626" stroke="#262626" stroke-width="0.25">60</text>
<text x="25.80" y="399.12" font-size="9.00" text-anchor="end" font-family="'Liberation Sans', Arial, Helvetica, sans-serif" font-weight="normal" fill="#262626" stroke="#262626" stroke-width="0.25">70</text>
<text x="25.80" y="417.09" font-size="9.00" text-anchor="end" font-family="'Liberation Sans', Arial, Helvetica, sans-serif" font-weight="normal" fill="#262626" stroke="#262626" stroke-width="0.25">80</text>
<text x="40.00" y="438.60" font-size="9.20" text-anchor="middle" font-family="'Liberation Sans', Arial, Helvetica, sans-serif" font-weight="normal" fill="#262626" stroke="#262626" stroke-width="0.25">3.66382</text>
<text x="85.60" y="438.60" font-size="9.20" text-anchor="middle" font-family="'Liberation Sans', Arial, Helvetica, sans-serif" font-weight="normal" fill="#262626" stroke="#262626" stroke-width="0.25">3.66384</text>
<text x="131.20" y="438.60" font-size="9.20" text-anchor="middle" font-family="'Liberation Sans', Arial, Helvetica, sans-serif" font-weight="normal" fill="#262626" stroke="#262626" stroke-width="0.25">3.66386</text>
<text x="176.80" y="438.60" font-size="9.20" text-anchor="middle" font-family="'Liberation Sans', Arial, Helvetica, sans-serif" font-weight="normal" fill="#262626" stroke="#262626" stroke-width="0.25">3.66388</text>
<text x="122.00" y="450.30" font-size="9.20" text-anchor="middle" font-family="'Liberation Serif', 'Times New Roman', serif" font-weight="bold" fill="#262626" stroke="#262626" stroke-width="0.25">Range (km)</text>
<text x="11.60" y="349.30" font-size="8.80" text-anchor="middle" font-family="'Liberation Serif', 'Times New Roman', serif" font-weight="bold" fill="#262626" stroke="#262626" stroke-width="0.25" transform="rotate(-90 11.60 349.30)">Doppler Frequency (Hz)</text>
<text x="192.00" y="455.00" font-size="9.50" text-anchor="start" font-family="'Liberation Sans', Arial, Helvetica, sans-serif" font-weight="normal" fill="#262626" stroke="#262626" stroke-width="0.25">×10</text>
<text x="208.50" y="450.50" font-size="6.50" text-anchor="start" font-family="'Liberation Sans', Arial, Helvetica, sans-serif" font-weight="normal" fill="#262626" stroke="#262626" stroke-width="0.25">4</text>
<rect x="219.10" y="273.30" width="13.30" height="154.10" fill="url(#cc)" stroke="#262626" stroke-width="0.6"/>
<text x="235.50" y="287.50" font-size="9.00" text-anchor="start" font-family="'Liberation Sans', Arial, Helvetica, sans-serif" font-weight="normal" fill="#262626" stroke="#262626" stroke-width="0.25">20</text>
<text x="235.50" y="313.40" font-size="9.00" text-anchor="start" font-family="'Liberation Sans', Arial, Helvetica, sans-serif" font-weight="normal" fill="#262626" stroke="#262626" stroke-width="0.25">0</text>
<text x="235.50" y="339.60" font-size="9.00" text-anchor="start" font-family="'Liberation Sans', Arial, Helvetica, sans-serif" font-weight="normal" fill="#262626" stroke="#262626" stroke-width="0.25">-20</text>
<text x="235.50" y="365.60" font-size="9.00" text-anchor="start" font-family="'Liberation Sans', Arial, Helvetica, sans-serif" font-weight="normal" fill="#262626" stroke="#262626" stroke-width="0.25">-40</text>
<text x="235.50" y="391.70" font-size="9.00" text-anchor="start" font-family="'Liberation Sans', Arial, Helvetica, sans-serif" font-weight="normal" fill="#262626" stroke="#262626" stroke-width="0.25">-60</text>
<text x="235.50" y="417.90" font-size="9.00" text-anchor="start" font-family="'Liberation Sans', Arial, Helvetica, sans-serif" font-weight="normal" fill="#262626" stroke="#262626" stroke-width="0.25">-80</text>
<text x="257.90" y="348.40" font-size="9.00" text-anchor="middle" font-family="'Liberation Serif', 'Times New Roman', serif" font-weight="bold" fill="#262626" stroke="#262626" stroke-width="0.25" transform="rotate(-90 257.90 348.40)">Amplitude (dB)</text>
<text x="132.70" y="485.30" font-size="13.10" text-anchor="middle" font-family="'Liberation Serif', 'Times New Roman', serif" font-weight="normal" fill="#262626">(<tspan stroke="#262626" stroke-width="0.35">c</tspan>)</text>
<g filter="url(#fd)">
<rect x="319.00" y="273.30" width="180.60" height="153.90" fill="url(#gd)"/>
<rect x="319" y="292" width="180.3" height="22" fill="url(#gdh)" mask="url(#md1)"/>
<rect x="420" y="289" width="80" height="28" fill="url(#gdr)"/>
<g mask="url(#md1)" style="mix-blend-mode:multiply"><rect x="319" y="289" width="180.3" height="28" fill="url(#std)" mask="url(#md2)"/></g>
<rect x="456.6" y="270" width="10.8" height="160" rx="2" fill="url(#gcol)" filter="url(#bl1)"/>
<path d="M456 276.80 L468 276.80 M456 285.00 L468 285.00 M456 293.80 L468 293.80 M455.5 313.80 Q458.5 312.80 462 311.60 Q465.5 312.80 468.5 313.80 M455.5 322.30 Q458.5 321.30 462 320.10 Q465.5 321.30 468.5 322.30 M455.5 331.10 Q458.5 330.10 462 328.90 Q465.5 330.10 468.5 331.10 M455.5 340.10 Q458.5 339.10 462 337.90 Q465.5 339.10 468.5 340.10 M455.5 349.10 Q458.5 348.10 462 346.90 Q465.5 348.10 468.5 349.10 M455.5 358.10 Q458.5 357.10 462 355.90 Q465.5 357.10 468.5 358.10 M455.5 367.00 Q458.5 366.00 462 364.80 Q465.5 366.00 468.5 367.00 M455.5 376.00 Q458.5 375.00 462 373.80 Q465.5 375.00 468.5 376.00 M455.5 385.00 Q458.5 384.00 462 382.80 Q465.5 384.00 468.5 385.00 M455.5 394.00 Q458.5 393.00 462 391.80 Q465.5 393.00 468.5 394.00 M455.5 403.00 Q458.5 402.00 462 400.80 Q465.5 402.00 468.5 403.00 M455.5 412.00 Q458.5 411.00 462 409.80 Q465.5 411.00 468.5 412.00 M455.5 420.80 Q458.5 419.80 462 418.60 Q465.5 419.80 468.5 420.80" stroke="rgb(125,76,0)" stroke-width="1.2" fill="none" filter="url(#bl1)"/>
</g>
<text x="412.60" y="306.00" font-size="10.30" text-anchor="start" font-family="'Liberation Serif', 'Times New Roman', serif" font-weight="normal" fill="#d4493f">Target 6</text>
<path d="M321.30 427.20v-2.00M321.30 273.30v2.00M356.70 427.20v-2.00M356.70 273.30v2.00M392.10 427.20v-2.00M392.10 273.30v2.00M427.50 427.20v-2.00M427.50 273.30v2.00M462.90 427.20v-2.00M462.90 273.30v2.00M319.00 289.40h2.00M499.60 289.40h-2.00M319.00 320.05h2.00M499.60 320.05h-2.00M319.00 350.70h2.00M499.60 350.70h-2.00M319.00 381.35h2.00M499.60 381.35h-2.00M319.00 412.00h2.00M499.60 412.00h-2.00" stroke="#262626" stroke-width="0.6" fill="none"/>
<rect x="319.00" y="273.30" width="180.60" height="153.90" fill="none" stroke="#262626" stroke-width="0.6"/>
<text x="315.50" y="291.80" font-size="9.00" text-anchor="end" font-family="'Liberation Sans', Arial, Helvetica, sans-serif" font-weight="normal" fill="#262626" stroke="#262626" stroke-width="0.25">−200</text>
<text x="315.50" y="322.45" font-size="9.00" text-anchor="end" font-family="'Liberation Sans', Arial, Helvetica, sans-serif" font-weight="normal" fill="#262626" stroke="#262626" stroke-width="0.25">−100</text>
<text x="315.50" y="353.10" font-size="9.00" text-anchor="end" font-family="'Liberation Sans', Arial, Helvetica, sans-serif" font-weight="normal" fill="#262626" stroke="#262626" stroke-width="0.25">0</text>
<text x="315.50" y="383.75" font-size="9.00" text-anchor="end" font-family="'Liberation Sans', Arial, Helvetica, sans-serif" font-weight="normal" fill="#262626" stroke="#262626" stroke-width="0.25">100</text>
<text x="315.50" y="414.40" font-size="9.00" text-anchor="end" font-family="'Liberation Sans', Arial, Helvetica, sans-serif" font-weight="normal" fill="#262626" stroke="#262626" stroke-width="0.25">200</text>
<text x="321.60" y="438.80" font-size="9.20" text-anchor="middle" font-family="'Liberation Sans', Arial, Helvetica, sans-serif" font-weight="normal" fill="#262626" stroke="#262626" stroke-width="0.25">3.66384</text>
<text x="357.00" y="438.80" font-size="9.20" text-anchor="middle" font-family="'Liberation Sans', Arial, Helvetica, sans-serif" font-weight="normal" fill="#262626" stroke="#262626" stroke-width="0.25">3.66385</text>
<text x="392.40" y="438.80" font-size="9.20" text-anchor="middle" font-family="'Liberation Sans', Arial, Helvetica, sans-serif" font-weight="normal" fill="#262626" stroke="#262626" stroke-width="0.25">3.66386</text>
<text x="427.80" y="438.80" font-size="9.20" text-anchor="middle" font-family="'Liberation Sans', Arial, Helvetica, sans-serif" font-weight="normal" fill="#262626" stroke="#262626" stroke-width="0.25">3.66387</text>
<text x="463.20" y="438.80" font-size="9.20" text-anchor="middle" font-family="'Liberation Sans', Arial, Helvetica, sans-serif" font-weight="normal" fill="#262626" stroke="#262626" stroke-width="0.25">3.66388</text>
<text x="411.00" y="450.30" font-size="9.20" text-anchor="middle" font-family="'Liberation Serif', 'Times New Roman', serif" font-weight="bold" fill="#262626" stroke="#262626" stroke-width="0.25">Range (km)</text>
<text x="292.40" y="349.30" font-size="8.90" text-anchor="middle" font-family="'Liberation Serif', 'Times New Roman', serif" font-weight="bold" fill="#262626" stroke="#262626" stroke-width="0.25" transform="rotate(-90 292.40 349.30)">Azimuth (m)</text>
<text x="478.00" y="455.50" font-size="9.50" text-anchor="start" font-family="'Liberation Sans', Arial, Helvetica, sans-serif" font-weight="normal" fill="#262626" stroke="#262626" stroke-width="0.25">×10</text>
<text x="494.50" y="451.00" font-size="6.50" text-anchor="start" font-family="'Liberation Sans', Arial, Helvetica, sans-serif" font-weight="normal" fill="#262626" stroke="#262626" stroke-width="0.25">4</text>
<rect x="505.30" y="273.30" width="13.40" height="153.90" fill="url(#cd)" stroke="#262626" stroke-width="0.6"/>
<text x="521.00" y="278.60" font-size="8.40" text-anchor="start" font-family="'Liberation Sans', Arial, Helvetica, sans-serif" font-weight="normal" fill="#262626" stroke="#262626" stroke-width="0.25">40</text>
<text x="521.00" y="307.70" font-size="8.40" text-anchor="start" font-family="'Liberation Sans', Arial, Helvetica, sans-serif" font-weight="normal" fill="#262626" stroke="#262626" stroke-width="0.25">30</text>
<text x="521.00" y="336.40" font-size="8.40" text-anchor="start" font-family="'Liberation Sans', Arial, Helvetica, sans-serif" font-weight="normal" fill="#262626" stroke="#262626" stroke-width="0.25">20</text>
<text x="521.00" y="365.60" font-size="8.40" text-anchor="start" font-family="'Liberation Sans', Arial, Helvetica, sans-serif" font-weight="normal" fill="#262626" stroke="#262626" stroke-width="0.25">10</text>
<text x="521.00" y="394.50" font-size="8.40" text-anchor="start" font-family="'Liberation Sans', Arial, Helvetica, sans-serif" font-weight="normal" fill="#262626" stroke="#262626" stroke-width="0.25">0</text>
<text x="521.00" y="423.70" font-size="8.40" text-anchor="start" font-family="'Liberation Sans', Arial, Helvetica, sans-serif" font-weight="normal" fill="#262626" stroke="#262626" stroke-width="0.25">−10</text>
<text x="543.50" y="348.40" font-size="9.00" text-anchor="middle" font-family="'Liberation Serif', 'Times New Roman', serif" font-weight="bold" fill="#262626" stroke="#262626" stroke-width="0.25" transform="rotate(-90 543.50 348.40)">Amplitude (dB)</text>
<text x="418.70" y="484.60" font-size="13.10" text-anchor="middle" font-family="'Liberation Serif', 'Times New Roman', serif" font-weight="normal" fill="#262626">(<tspan stroke="#262626" stroke-width="0.35">d</tspan>)</text>
</svg>
</body></html>
